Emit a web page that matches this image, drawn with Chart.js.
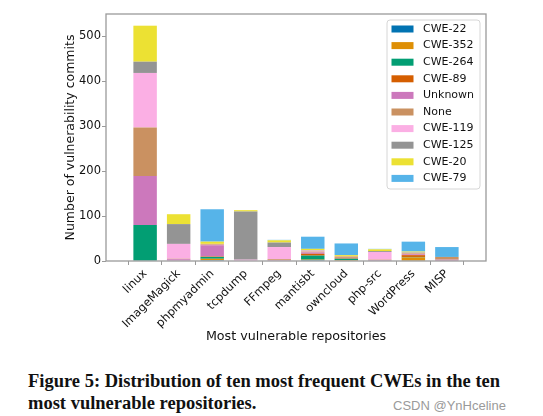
<!DOCTYPE html>
<html>
<head>
<meta charset="utf-8">
<script src="https://cdn.jsdelivr.net/npm/chart.js@4"></script>
<style>
  body { margin: 0; background: #fff; width: 543px; height: 416px; overflow: hidden; position: relative; }
  #wrap { position: absolute; left: 0; top: 0; width: 543px; height: 350px; }
  #caption { position: absolute; left: 28px; top: 370px; font: bold 18.5px "Liberation Serif", serif; line-height: 22px; color: #111; white-space: nowrap; }
  #mark { position: absolute; left: 393px; top: 398px; font: 13px "Liberation Sans", sans-serif; color: #9a9a9a; }
</style>
</head>
<body>
<div id="wrap"><canvas id="chart" width="543" height="350"></canvas></div>
<div id="caption">Figure 5: Distribution of ten most frequent CWEs in the ten<br>most vulnerable repositories.</div>
<div id="mark">CSDN @YnHceline</div>
<script>
const repos = ["linux", "ImageMagick", "phpmyadmin", "tcpdump", "FFmpeg", "mantisbt", "owncloud", "php-src", "WordPress", "MISP"];
const yTicks = [0, 100, 200, 300, 400, 500];

// one array per CWE, in repo order (bottom of stack first)
const cwe22  = [1, 0, 2, 0, 0, 2, 1, 1, 1, 0];
const cwe352 = [0, 0, 3, 0, 0, 1, 1, 0, 7, 0];
const cwe264 = [79, 0, 4, 0, 0, 9, 3, 0, 1, 0];
const cwe89  = [0, 0, 1, 0, 0, 4, 1, 0, 4, 1];
const unknown = [109, 4, 25, 1, 2, 3, 1, 1, 2, 2];
const none   = [108, 1, 2, 0, 2, 2, 3, 1, 2, 6];
const cwe119 = [121, 33, 1, 2, 27, 2, 0, 17, 1, 0];
const cwe125 = [25, 44, 0, 107, 10, 1, 0, 2, 1, 0];
const cwe20  = [80, 22, 5, 3, 5, 3, 3, 4, 2, 0];
const cwe79  = [0, 0, 72, 0, 1, 27, 26, 1, 22, 22];

const series = [
  { label: "CWE-22", data: cwe22, color: "#0173b2" },
  { label: "CWE-352", data: cwe352, color: "#de8f05" },
  { label: "CWE-264", data: cwe264, color: "#029e73" },
  { label: "CWE-89", data: cwe89, color: "#d55e00" },
  { label: "Unknown", data: unknown, color: "#cc78bc" },
  { label: "None", data: none, color: "#ca9161" },
  { label: "CWE-119", data: cwe119, color: "#fbafe4" },
  { label: "CWE-125", data: cwe125, color: "#949494" },
  { label: "CWE-20", data: cwe20, color: "#ece133" },
  { label: "CWE-79", data: cwe79, color: "#56b4e9" }
];

const frameColor = "#9a9a9a";
const font = "DejaVu Sans";

// legend box inside the plot, top right, like matplotlib
const insideLegend = {
  id: "insideLegend",
  afterDraw(chart) {
    const { ctx, chartArea } = chart;
    const x0 = chartArea.right - 99, y0 = chartArea.top + 6, w = 93, h = 169;
    ctx.save();
    ctx.fillStyle = "rgba(255,255,255,0.8)";
    ctx.strokeStyle = "#d6d6d6";
    ctx.lineWidth = 1;
    ctx.beginPath();
    ctx.roundRect(x0, y0, w, h, 3);
    ctx.fill();
    ctx.stroke();
    ctx.font = "11px " + font;
    ctx.textBaseline = "middle";
    chart.data.datasets.forEach((ds, i) => {
      const cy = y0 + 9 + i * 16.6;
      ctx.fillStyle = ds.backgroundColor;
      ctx.fillRect(x0 + 4.5, cy - 3.5, 22, 7);
      ctx.fillStyle = "#111";
      ctx.fillText(ds.label, x0 + 36, cy);
    });
    ctx.restore();
  }
};

const frame = {
  id: "frame",
  afterDatasetsDraw(chart) {
    const { ctx, chartArea } = chart;
    ctx.save();
    ctx.strokeStyle = frameColor;
    ctx.lineWidth = 1.3;
    ctx.strokeRect(chartArea.left, chartArea.top, chartArea.right - chartArea.left, chartArea.bottom - chartArea.top);
    ctx.restore();
  }
};

new Chart(document.getElementById("chart"), {
  type: "bar",
  data: {
    datasets: series.map(s => ({
      label: s.label,
      data: s.data.map((v, i) => ({ x: i, y: v })),
      backgroundColor: s.color,
      borderWidth: 0,
      barPercentage: 0.7,
      categoryPercentage: 1.0
    }))
  },
  options: {
    responsive: false,
    animation: false,
    devicePixelRatio: 1,
    layout: { padding: { top: 14, right: 57, left: 63, bottom: 0 } },
    plugins: { legend: { display: false }, tooltip: { enabled: false } },
    scales: {
      x: {
        type: "linear",
        stacked: true,
        min: -0.6,
        max: 9.6,
        afterBuildTicks: scale => { scale.ticks = repos.map((r, i) => ({ value: i })); },
        afterFit: scale => { scale.height = 89; },
        ticks: {
          includeBounds: false,
          autoSkip: false,
          minRotation: 45,
          maxRotation: 45,
          padding: 2,
          color: "#111",
          font: { family: font, size: 11.5 },
          callback: v => repos[v]
        },
        grid: { drawOnChartArea: false, drawTicks: true, tickLength: 4, color: frameColor },
        border: { display: false },
        title: {
          display: true,
          text: "Most vulnerable repositories",
          color: "#111",
          font: { family: font, size: 12.7 },
          padding: { top: 0, bottom: 6 }
        }
      },
      y: {
        stacked: true,
        min: 0,
        max: 549,
        afterBuildTicks: scale => { scale.ticks = yTicks.map(v => ({ value: v })); },
        afterFit: scale => { scale.width = 43; },
        ticks: { padding: 1, color: "#111", font: { family: font, size: 11.5 } },
        grid: { drawOnChartArea: false, drawTicks: true, tickLength: 4, color: frameColor },
        border: { display: false },
        title: {
          display: true,
          text: "Number of vulnerability commits",
          color: "#111",
          font: { family: font, size: 12.5 },
          padding: { top: 0, bottom: 0 }
        }
      }
    }
  },
  plugins: [frame, insideLegend]
});
</script>
</body>
</html>
